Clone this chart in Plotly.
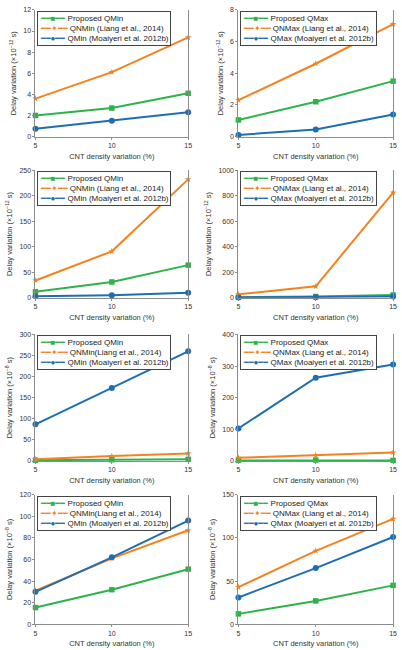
import plotly.graph_objects as go

# CNT density variation (%)
x_vals = [5, 10, 15]

# row 1 (x10^-12 s)
p1_prop = [2.0, 2.7, 4.1]
p1_qn = [3.6, 6.1, 9.4]
p1_moa = [0.75, 1.5, 2.3]

p2_prop = [1.05, 2.2, 3.5]
p2_qn = [2.3, 4.6, 7.1]
p2_moa = [0.1, 0.45, 1.4]

# row 2 (x10^-12 s)
p3_prop = [12, 31, 64]
p3_qn = [34, 91, 232]
p3_moa = [3, 5, 10]

p4_prop = [5, 10, 22]
p4_qn = [28, 90, 825]
p4_moa = [3, 5, 10]

# row 3 (x10^-8 s)
p5_prop = [2, 3, 4]
p5_qn = [4, 12, 18]
p5_moa = [87, 173, 260]

p6_prop = [2, 3, 2]
p6_qn = [10, 18, 27]
p6_moa = [103, 263, 305]

# row 4 (x10^-8 s)
p7_prop = [15.5, 32, 51]
p7_qn = [31, 61, 87]
p7_moa = [30, 62, 96]

p8_prop = [12, 27, 45]
p8_qn = [43, 85, 122]
p8_moa = [31, 65, 101]

names_min = ["Proposed QMin", "QNMin (Liang et al., 2014)", "QMin (Moaiyeri et al. 2012b)"]
names_min2 = ["Proposed QMin", "QNMin(Liang et al., 2014)", "QMin (Moaiyeri et al. 2012b)"]
names_max = ["Proposed QMax", "QNMax (Liang et al., 2014)", "QMax (Moaiyeri et al. 2012b)"]

panels = [
    (p1_prop, p1_qn, p1_moa, names_min, 12, 2, "−12"),
    (p2_prop, p2_qn, p2_moa, names_max, 8, 2, "−12"),
    (p3_prop, p3_qn, p3_moa, names_min, 250, 50, "−12"),
    (p4_prop, p4_qn, p4_moa, names_max, 1000, 200, "−12"),
    (p5_prop, p5_qn, p5_moa, names_min2, 300, 50, "−8"),
    (p6_prop, p6_qn, p6_moa, names_max, 400, 100, "−8"),
    (p7_prop, p7_qn, p7_moa, names_min2, 120, 20, "−8"),
    (p8_prop, p8_qn, p8_moa, names_max, 150, 50, "−8"),
]

W, H = 402, 650
col_px = [(34, 189), (240, 397)]
row_px = [(6, 134), (168, 297), (334, 462), (496, 627)]

green = "#2db34a"
orange = "#f5821f"
blue = "#1f6db5"
styles = [(green, "square", 5.5, "■"), (orange, "star", 5, "✦"), (blue, "circle", 6, "●")]
axis_col = "#8c8c8c"
font_fam = "Liberation Sans, Arial, sans-serif"

fig = go.Figure()
layout = dict(width=W, height=H, margin=dict(l=0, r=0, t=0, b=0),
              paper_bgcolor="white", plot_bgcolor="white", showlegend=False,
              font=dict(family=font_fam, size=7, color="#333"))
annotations = []

for i, (prop, qn, moa, names, ymax, dtick, expo) in enumerate(panels):
    r, c = divmod(i, 2)
    n = "" if i == 0 else str(i + 1)
    x0, x1 = col_px[c]
    t, b = row_px[r]
    rows = []
    for ys, name, (colr, sym, sz, glyph) in zip([prop, qn, moa], names, styles):
        fig.add_trace(go.Scatter(
            x=x_vals, y=ys, name=name, mode="lines+markers",
            line=dict(color=colr, width=2),
            marker=dict(color=colr, symbol=sym, size=sz),
            xaxis="x" + n, yaxis="y" + n, cliponaxis=False))
        rows.append("<span style='color:%s'>━━%s━━</span> %s" % (colr, glyph, name))
    layout["xaxis" + n] = dict(
        domain=[x0 / W, x1 / W], anchor="y" + n, range=[5, 15],
        tickvals=x_vals, showgrid=False, zeroline=False,
        showline=True, linecolor=axis_col, linewidth=1,
        ticks="outside", ticklen=2, tickcolor=axis_col,
        title=dict(text="CNT density variation (%)", font=dict(size=7.5), standoff=5))
    layout["yaxis" + n] = dict(
        domain=[1 - b / H, 1 - t / H], anchor="x" + n, range=[0, ymax],
        dtick=dtick, showgrid=False, zeroline=False,
        showline=True, linecolor=axis_col, linewidth=1, mirror=True,
        ticks="outside", ticklen=2, tickcolor=axis_col,
        title=dict(text="Delay variation (×10<sup>" + expo + "</sup> s)",
                   font=dict(size=7.5), standoff=5))
    annotations.append(dict(
        xref="paper", yref="paper", x=(x0 + 2) / W, y=1 - (t + 1) / H,
        xanchor="left", yanchor="top", align="left", showarrow=False,
        text="<br>".join(rows), font=dict(size=8, color="#222"),
        bgcolor="white", bordercolor="#444", borderwidth=1, borderpad=1.5))

layout["annotations"] = annotations
fig.update_layout(**layout)
# page body has a default 8px margin; drop it so the figure fills the window
fig.write_html("out.html", config={"displayModeBar": False},
               post_script="document.body.style.margin='0';")
